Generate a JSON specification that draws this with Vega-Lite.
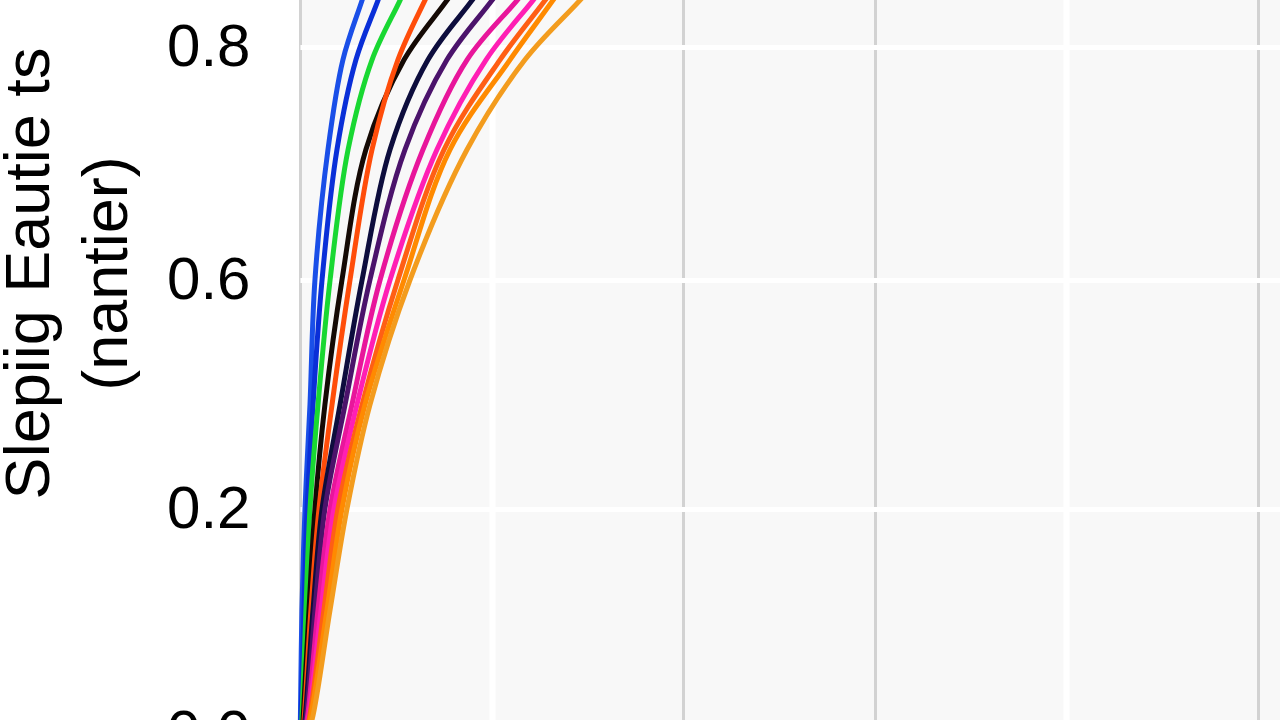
{
  "$schema": "https://vega.github.io/schema/vega-lite/v6.json",
  "width": 980,
  "height": 720,
  "autosize": {"type": "none"},
  "padding": {"left": 300, "top": 0, "right": 0, "bottom": 0},
  "background": "#ffffff",
  "config": {
    "view": {"fill": "#f8f8f8", "stroke": null},
    "font": "Liberation Sans"
  },
  "data": {
    "values": [
      {"s": "a", "x": 0.0, "y": 0.0}, {"s": "a", "x": 0.002, "y": 0.012}, {"s": "a", "x": 0.010, "y": 0.11}, {"s": "a", "x": 0.026, "y": 0.2}, {"s": "a", "x": 0.052, "y": 0.382}, {"s": "a", "x": 0.078, "y": 0.6}, {"s": "a", "x": 0.146, "y": 0.712}, {"s": "a", "x": 0.224, "y": 0.789}, {"s": "a", "x": 0.324, "y": 0.84}, {"s": "a", "x": 0.376, "y": 0.866},
      {"s": "b", "x": 0.003, "y": 0.0}, {"s": "b", "x": 0.005, "y": 0.012}, {"s": "b", "x": 0.021, "y": 0.11}, {"s": "b", "x": 0.037, "y": 0.2}, {"s": "b", "x": 0.068, "y": 0.382}, {"s": "b", "x": 0.115, "y": 0.6}, {"s": "b", "x": 0.193, "y": 0.712}, {"s": "b", "x": 0.292, "y": 0.789}, {"s": "b", "x": 0.407, "y": 0.84}, {"s": "b", "x": 0.464, "y": 0.866},
      {"s": "c", "x": 0.005, "y": 0.0}, {"s": "c", "x": 0.010, "y": 0.012}, {"s": "c", "x": 0.031, "y": 0.11}, {"s": "c", "x": 0.052, "y": 0.2}, {"s": "c", "x": 0.094, "y": 0.382}, {"s": "c", "x": 0.157, "y": 0.6}, {"s": "c", "x": 0.251, "y": 0.712}, {"s": "c", "x": 0.376, "y": 0.789}, {"s": "c", "x": 0.522, "y": 0.84}, {"s": "c", "x": 0.595, "y": 0.866},
      {"s": "d", "x": 0.010, "y": 0.0}, {"s": "d", "x": 0.016, "y": 0.012}, {"s": "d", "x": 0.047, "y": 0.11}, {"s": "d", "x": 0.078, "y": 0.2}, {"s": "d", "x": 0.130, "y": 0.382}, {"s": "d", "x": 0.219, "y": 0.6}, {"s": "d", "x": 0.344, "y": 0.712}, {"s": "d", "x": 0.543, "y": 0.789}, {"s": "d", "x": 0.767, "y": 0.84}, {"s": "d", "x": 0.877, "y": 0.866},
      {"s": "e", "x": 0.013, "y": 0.0}, {"s": "e", "x": 0.021, "y": 0.012}, {"s": "e", "x": 0.057, "y": 0.11}, {"s": "e", "x": 0.099, "y": 0.2}, {"s": "e", "x": 0.167, "y": 0.382}, {"s": "e", "x": 0.261, "y": 0.6}, {"s": "e", "x": 0.376, "y": 0.712}, {"s": "e", "x": 0.511, "y": 0.789}, {"s": "e", "x": 0.652, "y": 0.84}, {"s": "e", "x": 0.731, "y": 0.866},
      {"s": "f", "x": 0.016, "y": 0.0}, {"s": "f", "x": 0.026, "y": 0.012}, {"s": "f", "x": 0.068, "y": 0.11}, {"s": "f", "x": 0.115, "y": 0.2}, {"s": "f", "x": 0.209, "y": 0.382}, {"s": "f", "x": 0.324, "y": 0.6}, {"s": "f", "x": 0.470, "y": 0.712}, {"s": "f", "x": 0.668, "y": 0.789}, {"s": "f", "x": 0.898, "y": 0.84}, {"s": "f", "x": 1.012, "y": 0.866},
      {"s": "g", "x": 0.018, "y": 0.0}, {"s": "g", "x": 0.031, "y": 0.012}, {"s": "g", "x": 0.078, "y": 0.11}, {"s": "g", "x": 0.130, "y": 0.2}, {"s": "g", "x": 0.235, "y": 0.382}, {"s": "g", "x": 0.365, "y": 0.6}, {"s": "g", "x": 0.548, "y": 0.712}, {"s": "g", "x": 0.767, "y": 0.789}, {"s": "g", "x": 1.002, "y": 0.84}, {"s": "g", "x": 1.117, "y": 0.866},
      {"s": "h", "x": 0.021, "y": 0.0}, {"s": "h", "x": 0.037, "y": 0.012}, {"s": "h", "x": 0.094, "y": 0.11}, {"s": "h", "x": 0.157, "y": 0.2}, {"s": "h", "x": 0.271, "y": 0.382}, {"s": "h", "x": 0.418, "y": 0.6}, {"s": "h", "x": 0.642, "y": 0.712}, {"s": "h", "x": 0.872, "y": 0.789}, {"s": "h", "x": 1.133, "y": 0.84}, {"s": "h", "x": 1.263, "y": 0.866},
      {"s": "i", "x": 0.023, "y": 0.0}, {"s": "i", "x": 0.042, "y": 0.012}, {"s": "i", "x": 0.110, "y": 0.11}, {"s": "i", "x": 0.177, "y": 0.2}, {"s": "i", "x": 0.297, "y": 0.382}, {"s": "i", "x": 0.470, "y": 0.6}, {"s": "i", "x": 0.715, "y": 0.712}, {"s": "i", "x": 0.971, "y": 0.789}, {"s": "i", "x": 1.216, "y": 0.84}, {"s": "i", "x": 1.341, "y": 0.866},
      {"s": "j", "x": 0.026, "y": 0.0}, {"s": "j", "x": 0.047, "y": 0.012}, {"s": "j", "x": 0.125, "y": 0.11}, {"s": "j", "x": 0.198, "y": 0.2}, {"s": "j", "x": 0.324, "y": 0.382}, {"s": "j", "x": 0.511, "y": 0.6}, {"s": "j", "x": 0.752, "y": 0.712}, {"s": "j", "x": 1.044, "y": 0.789}, {"s": "j", "x": 1.279, "y": 0.84}, {"s": "j", "x": 1.393, "y": 0.866},
      {"s": "k", "x": 0.029, "y": 0.0}, {"s": "k", "x": 0.052, "y": 0.012}, {"s": "k", "x": 0.141, "y": 0.11}, {"s": "k", "x": 0.219, "y": 0.2}, {"s": "k", "x": 0.339, "y": 0.382}, {"s": "k", "x": 0.543, "y": 0.6}, {"s": "k", "x": 0.783, "y": 0.712}, {"s": "k", "x": 1.096, "y": 0.789}, {"s": "k", "x": 1.320, "y": 0.84}, {"s": "k", "x": 1.430, "y": 0.866},
      {"s": "l", "x": 0.037, "y": 0.0}, {"s": "l", "x": 0.063, "y": 0.012}, {"s": "l", "x": 0.157, "y": 0.11}, {"s": "l", "x": 0.245, "y": 0.2}, {"s": "l", "x": 0.365, "y": 0.382}, {"s": "l", "x": 0.574, "y": 0.6}, {"s": "l", "x": 0.872, "y": 0.712}, {"s": "l", "x": 1.174, "y": 0.789}, {"s": "l", "x": 1.461, "y": 0.84}, {"s": "l", "x": 1.602, "y": 0.866}
    ]
  },
  "mark": {"type": "line", "interpolate": "catmull-rom", "strokeWidth": 5, "strokeCap": "round"},
  "encoding": {
    "x": {
      "field": "x",
      "type": "quantitative",
      "scale": {"domain": [0, 5.115], "nice": false, "zero": false},
      "axis": {
        "values": [0, 1, 2, 3, 4, 5],
        "labels": false,
        "ticks": false,
        "domain": false,
        "title": null,
        "grid": true,
        "gridColor": {"condition": {"test": "datum.value === 1 || datum.value === 4", "value": "#ffffff"}, "value": "#d2d2d2"},
        "gridWidth": {"condition": {"test": "datum.value === 1 || datum.value === 4", "value": 6}, "value": 3}
      }
    },
    "y": {
      "field": "y",
      "type": "quantitative",
      "scale": {"type": "linear", "domain": [0, 0.2, 0.6, 0.8, 0.8403], "range": [733, 509, 280, 47, 0], "nice": false, "zero": false},
      "axis": {
        "values": [0, 0.2, 0.6, 0.8],
        "format": ".1f",
        "ticks": false,
        "domain": false,
        "grid": true,
        "gridColor": "#ffffff",
        "gridWidth": 5,
        "labelFont": "Liberation Sans",
        "labelFontSize": 60,
        "labelColor": "#000000",
        "labelPadding": 50,
        "title": ["Slepiig Eautie ts", "(nantier)"],
        "titleFont": "Liberation Sans",
        "titleFontSize": 63,
        "titleFontWeight": "normal",
        "titleColor": "#000000",
        "titleAngle": -90,
        "titleAlign": "center",
        "titleBaseline": "alphabetic",
        "titleLineHeight": 78,
        "titleX": -252,
        "titleY": 273
      }
    },
    "color": {
      "field": "s",
      "type": "nominal",
      "legend": null,
      "scale": {
        "domain": ["a", "b", "c", "d", "e", "f", "g", "h", "i", "j", "k", "l"],
        "range": ["#1a4fe8", "#0a2fd8", "#19d832", "#150a05", "#ff4d0a", "#0d0d3d", "#4b136b", "#e8169b", "#ff1fb4", "#ff5f14", "#ff8a00", "#f39c1e"]
      }
    }
  }
}
